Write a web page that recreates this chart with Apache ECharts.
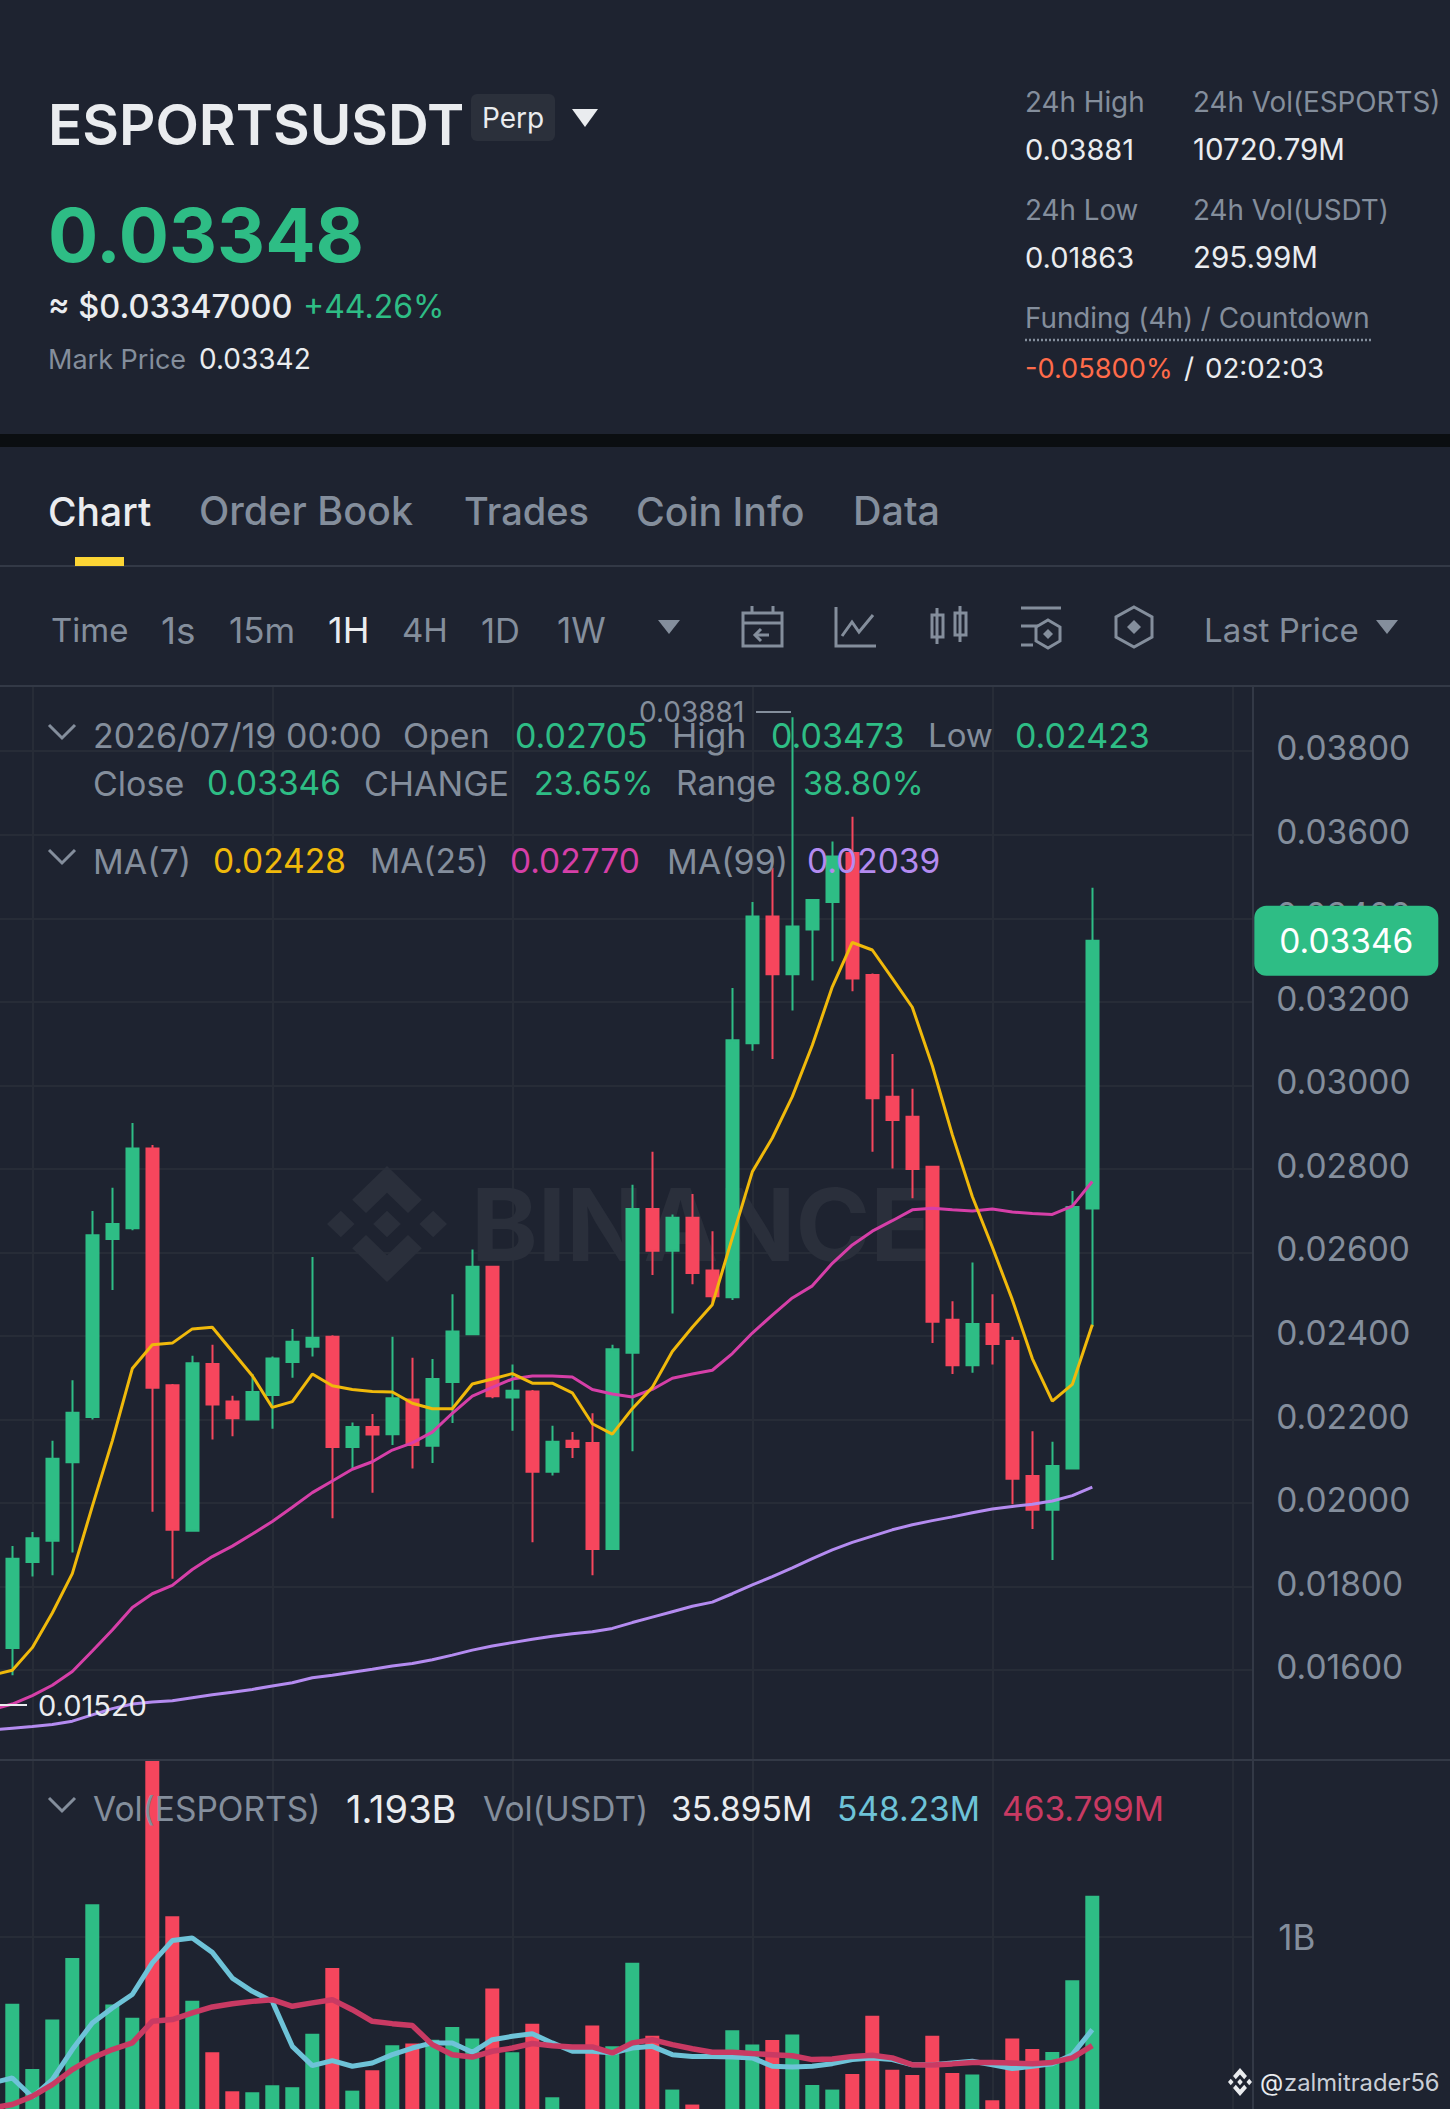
<!DOCTYPE html>
<html><head><meta charset="utf-8">
<style>html,body{margin:0;padding:0;background:#1e2330}#c{width:1450px;height:2109px}</style>
<script src="https://cdn.jsdelivr.net/npm/echarts@6/dist/echarts.min.js"></script>
</head><body><div id="c"></div>
<script>
const opens=[0.01653,0.01859,0.0191,0.02098,0.02206,0.02632,0.02658,0.02849,0.02282,0.01934,0.02333,0.02243,0.022,0.02259,0.02338,0.02374,0.02398,0.02134,0.02182,0.02165,0.02248,0.02137,0.0229,0.02404,0.02566,0.02253,0.02267,0.02075,0.02149,0.02144,0.0189,0.0236,0.02704,0.02604,0.02683,0.02557,0.02493,0.03101,0.03404,0.03266,0.03373,0.03439,0.03556,0.03264,0.02973,0.02925,0.02805,0.02439,0.0233,0.02429,0.02388,0.02065,0.01984,0.02083,0.02705];
const closes=[0.01867,0.01916,0.02106,0.02216,0.02641,0.02668,0.02849,0.02276,0.01936,0.02335,0.02236,0.02203,0.02266,0.02346,0.02386,0.02396,0.02134,0.02182,0.02164,0.02251,0.02139,0.02297,0.02411,0.02566,0.02256,0.02269,0.02075,0.02147,0.02134,0.0189,0.02368,0.02704,0.02604,0.02683,0.02551,0.02495,0.03108,0.03404,0.03266,0.0338,0.03444,0.03548,0.03256,0.02969,0.02917,0.028,0.02434,0.0233,0.02429,0.02381,0.02058,0.01984,0.02089,0.02709,0.03346];
const lows=[0.01588,0.01824,0.01827,0.01882,0.022,0.0251,0.02653,0.01979,0.01819,0.01934,0.02152,0.0216,0.022,0.02178,0.023,0.02351,0.01964,0.02083,0.02025,0.02139,0.02083,0.02096,0.02192,0.02404,0.02251,0.02173,0.01906,0.02066,0.02108,0.01827,0.0189,0.02124,0.02546,0.02454,0.02524,0.02478,0.02486,0.03083,0.03063,0.03179,0.03251,0.03297,0.03225,0.02841,0.02801,0.0273,0.02383,0.02309,0.02312,0.02332,0.01997,0.01938,0.01864,0.02083,0.02423];
const highs=[0.01897,0.01931,0.02149,0.02294,0.02699,0.02755,0.0291,0.02857,0.02285,0.02353,0.02379,0.02257,0.02309,0.02351,0.02417,0.02589,0.02402,0.02193,0.02213,0.02398,0.02348,0.02345,0.025,0.02607,0.02566,0.02332,0.02271,0.02185,0.0217,0.02215,0.02379,0.02762,0.02841,0.02691,0.0274,0.02651,0.03233,0.03439,0.03521,0.03881,0.03446,0.03584,0.03643,0.03268,0.03075,0.02992,0.02805,0.02483,0.02576,0.025,0.02398,0.02172,0.02147,0.02747,0.03473];
const ma7=[0.01588,0.016,0.01654,0.01737,0.01831,0.01992,0.02149,0.02322,0.02379,0.02383,0.02417,0.02421,0.02363,0.02305,0.02229,0.02243,0.02309,0.02281,0.02272,0.02267,0.02266,0.02239,0.02226,0.02226,0.02285,0.02297,0.0231,0.02287,0.02287,0.02264,0.0219,0.02165,0.02226,0.02277,0.02363,0.02421,0.02475,0.02635,0.02793,0.02874,0.02973,0.03096,0.03236,0.03342,0.03324,0.03256,0.03187,0.03047,0.02882,0.02734,0.02613,0.02487,0.02346,0.02244,0.02284,0.02427];
const ma25=[0.01506,0.01519,0.01539,0.01564,0.01597,0.01646,0.01696,0.0175,0.01783,0.01803,0.01841,0.01872,0.01897,0.01926,0.01956,0.0199,0.02025,0.02053,0.02081,0.02099,0.02127,0.02144,0.0217,0.02215,0.02256,0.02277,0.02297,0.02304,0.02304,0.02302,0.02272,0.02261,0.02254,0.02272,0.02299,0.02309,0.02318,0.02358,0.02407,0.0245,0.02491,0.0252,0.02574,0.02618,0.02651,0.02676,0.02702,0.02706,0.02702,0.02699,0.02704,0.02697,0.02693,0.02691,0.02711,0.0277];
const ma99=[0.01457,0.01461,0.01465,0.0147,0.01478,0.01493,0.01508,0.01519,0.01524,0.01527,0.01534,0.01541,0.01547,0.01554,0.01562,0.0157,0.01582,0.01588,0.01595,0.01602,0.0161,0.01616,0.01625,0.01636,0.01648,0.01658,0.01666,0.01674,0.01681,0.01687,0.01692,0.017,0.01714,0.01727,0.0174,0.01753,0.01763,0.01783,0.01804,0.01824,0.01845,0.01867,0.01888,0.01906,0.01921,0.01936,0.01948,0.01958,0.01967,0.01977,0.01986,0.01992,0.01997,0.02005,0.02018,0.02038];
const volumes=[0.688,0.383,0.614,0.902,1.153,0.684,0.623,1.85,1.097,0.702,0.461,0.279,0.274,0.307,0.298,0.548,0.855,0.282,0.377,0.494,0.502,0.52,0.579,0.525,0.759,0.461,0.595,0.251,0.16,0.586,0.489,0.879,0.539,0.287,0.217,0.16,0.564,0.497,0.519,0.544,0.308,0.287,0.36,0.632,0.38,0.355,0.539,0.364,0.357,0.237,0.526,0.477,0.463,0.798,1.193];
const volMaBlue=[0.318,0.341,0.252,0.333,0.474,0.598,0.668,0.731,0.879,0.983,0.995,0.928,0.808,0.746,0.699,0.489,0.399,0.422,0.396,0.411,0.45,0.481,0.505,0.505,0.461,0.52,0.536,0.548,0.505,0.466,0.466,0.458,0.481,0.489,0.45,0.442,0.442,0.439,0.435,0.396,0.393,0.396,0.408,0.427,0.435,0.427,0.403,0.403,0.411,0.419,0.403,0.385,0.396,0.408,0.45,0.567];
const volMaRed=[0.201,0.217,0.255,0.31,0.38,0.435,0.474,0.505,0.606,0.614,0.645,0.673,0.688,0.699,0.707,0.676,0.692,0.707,0.66,0.606,0.595,0.586,0.497,0.45,0.439,0.466,0.481,0.502,0.492,0.486,0.486,0.458,0.505,0.52,0.497,0.478,0.461,0.461,0.455,0.45,0.445,0.427,0.43,0.442,0.447,0.435,0.403,0.402,0.407,0.414,0.414,0.411,0.408,0.414,0.435,0.492];
const priceTicks=[0.016,0.018,0.020,0.022,0.024,0.026,0.028,0.030,0.032,0.034,0.036,0.038];
const volTicks=[1];
const lastPrice=[0.03346];
const slotsLeft=1, slotsTotal=64;
const categories=Array.from({length:slotsTotal},(_,k)=>'bar'+(k-slotsLeft));

const BG='#1e2330',GREEN='#2ebd85',RED='#f6465d',GREY='#848e9c',WHITE='#eaecef',GRID='#272c37',RULE='#333946';
const YEL='#f0b90b',PINK='#d63fa8',PUR='#b48bf0',BLUE='#6ec3d8',VRED='#c93a63';
const FONT='Inter';

const pad=(a,lead)=>{const r=Array(slotsTotal).fill(null);a.forEach((v,k)=>{r[k+lead]=v;});return r;};
const candleData=Array.from({length:slotsTotal},(_,k)=>{const j=k-slotsLeft;return (j>=0&&j<opens.length)?[opens[j],closes[j],lows[j],highs[j]]:['-','-','-','-'];});
const volBars=Array.from({length:slotsTotal},(_,k)=>{const j=k-slotsLeft;if(j<0||j>=volumes.length)return null;return {value:volumes[j],itemStyle:{color:closes[j]>=opens[j]?GREEN:RED}};});

const g=[];
function T(x,y,text,size,fill,weight,z,align){g.push({type:'text',x,y,z:z==null?100:z,silent:true,style:{text,fill,font:(weight||400)+' '+size+'px '+FONT,textAlign:align||'left',textVerticalAlign:'middle'}});}
function R(x,y,w,h,fill,r,z){g.push({type:'rect',z:z==null?50:z,silent:true,shape:{x,y,width:w,height:h,r:r||0},style:{fill}});}
function L(x1,y1,x2,y2,stroke,lw,z,dash){g.push({type:'line',z:z==null?50:z,silent:true,shape:{x1,y1,x2,y2},style:{stroke,lineWidth:lw||2,lineDash:dash}});}
function P(points,fill,z){g.push({type:'polygon',z:z==null?50:z,silent:true,shape:{points},style:{fill}});}
function PL(points,stroke,lw,z){g.push({type:'polyline',z:z==null?50:z,silent:true,shape:{points},style:{stroke,lineWidth:lw||3,fill:'none'}});}
function tri(cx,cy,w,h,fill){P([[cx-w/2,cy-h/2],[cx+w/2,cy-h/2],[cx,cy+h/2]],fill);}
function chev(x,y){PL([[x,y-7],[x+13,y+6],[x+26,y-7]],GREY,3,100);}
function logo(cx,cy,rx,ry,fill,z){const s=[[[0,-1],[.58,-.42],[.35,-.19],[0,-.54],[-.35,-.19],[-.58,-.42]],[[0,1],[.58,.42],[.35,.19],[0,.54],[-.35,.19],[-.58,.42]],[[-1,0],[-.77,-.23],[-.54,0],[-.77,.23]],[[1,0],[.77,-.23],[.54,0],[.77,.23]],[[0,-.23],[.23,0],[0,.23],[-.23,0]]];s.forEach(p=>P(p.map(q=>[cx+q[0]*rx,cy+q[1]*ry]),fill,z));}

// header
T(48,124,'ESPORTSUSDT',56.5,WHITE,600);
R(471,94,84,47,'#2b303b',6);T(482,118,'Perp',28,WHITE,400);
P([[572,109],[598,109],[585,127]],WHITE);
T(48,235,'0.03348',74.5,GREEN,650);
T(48,306,'≈ $0.03347000',32.5,WHITE,500);T(303,306,'+44.26%',32,GREEN,400);
T(48,359,'Mark Price',27,GREY);T(199,359,'0.03342',28,WHITE);
T(1025,102,'24h High',27.8,GREY);T(1193,102,'24h Vol(ESPORTS)',27.8,GREY);
T(1025,149,'0.03881',29,WHITE);T(1193,149,'10720.79M',29.5,WHITE);
T(1025,210,'24h Low',27.8,GREY);T(1193,210,'24h Vol(USDT)',27.8,GREY);
T(1025,257,'0.01863',29,WHITE);T(1193,257,'295.99M',29.5,WHITE);
T(1025,318,'Funding (4h) / Countdown',27.8,GREY);
L(1025,340,1371,340,GREY,2.5,50,[2,2]);
T(1025,368,'-0.05800%',27.2,'#ff6b4a');T(1184,368,'/',28,WHITE);T(1205,368,'02:02:03',27.7,WHITE);
R(0,434,1450,13,'#0b0e11',0);
// tabs
[['Chart',48,WHITE,39],['Order Book',199,GREY,39.5],['Trades',464,GREY,38],['Coin Info',636,GREY,39.3],['Data',853,GREY,39.5]].forEach(a=>T(a[1],511,a[0],a[3],a[2],500));
L(0,566,1450,566,RULE,2);R(75,557,49,9,'#fcd535',0,60);
// toolbar
[['Time',51,GREY,33],['1s',161,GREY,37],['15m',229,GREY,35],['1H',328,WHITE,36],['4H',402,GREY,33],['1D',481,GREY,34.5],['1W',557,GREY,35],['Last Price',1204,GREY,33]].forEach(a=>T(a[1],630,a[0],a[3],a[2],400));
tri(669,627,22,14,GREY);tri(1387,627,22,14,GREY);
// icons
g.push({type:'rect',z:50,silent:true,shape:{x:743,y:613,width:39,height:33},style:{stroke:GREY,lineWidth:3,fill:'none'}});
L(743,623,782,623,GREY,3);L(752,606,752,614,GREY,3);L(773,606,773,614,GREY,3);PL([[769,635],[755,635]],GREY,3);PL([[761,629],[755,635],[761,641]],GREY,3);
PL([[836,607],[836,646],[876,646]],GREY,3);PL([[842,636],[852,622],[859,632],[873,615]],GREY,3);
g.push({type:'rect',z:50,silent:true,shape:{x:932,y:615,width:11,height:22},style:{stroke:GREY,lineWidth:3,fill:'none'}});
g.push({type:'rect',z:50,silent:true,shape:{x:955,y:613,width:11,height:22},style:{stroke:GREY,lineWidth:3,fill:'none'}});
L(937,608,937,644,GREY,3);L(960,606,960,642,GREY,3);
L(1021,608,1061,608,GREY,3);L(1021,626,1038,626,GREY,3);L(1021,645,1033,645,GREY,3);
g.push({type:'polygon',z:50,silent:true,shape:{points:[[1048,620],[1060,627],[1060,641],[1048,648],[1036,641],[1036,627]]},style:{stroke:GREY,lineWidth:3,fill:'none'}});
P([[1048,629],[1053,634],[1048,639],[1043,634]],GREY);
g.push({type:'polygon',z:50,silent:true,shape:{points:[[1134,607],[1152,617],[1152,637],[1134,647],[1116,637],[1116,617]]},style:{stroke:GREY,lineWidth:3,fill:'none'}});
P([[1134,620],[1141,627],[1134,634],[1127,627]],GREY);
L(0,686,1450,686,RULE,2);
// OHLC legend
chev(49,732);chev(49,857);chev(49,1805);
const FS=34;
T(93,735,'2026/07/19 00:00',FS,GREY);T(403,735,'Open',FS,GREY);T(515,735,'0.02705',FS,GREEN);T(672,735,'High',FS,GREY);T(771,735,'0.03473',FS,GREEN);T(928,735,'Low',33,GREY);T(1015,735,'0.02423',FS,GREEN);
T(93,783,'Close',FS,GREY);T(207,783,'0.03346',33.5,GREEN);T(364,783,'CHANGE',FS,GREY);T(534,783,'23.65%',32.5,GREEN);T(676,783,'Range',33.5,GREY);T(803,783,'38.80%',32.5,GREEN);
T(93,861,'MA(7)',FS,GREY);T(213,861,'0.02428',33.5,YEL);T(370,861,'MA(25)',33.5,GREY);T(510,861,'0.02770',33.5,PINK);T(667,861,'MA(99)',FS,GREY);T(807,861,'0.02039',33.5,PUR);
T(639,712,'0.03881',28,GREY);L(756,712,791,712,GREY,2,100);
L(0,1705,27,1705,WHITE,2,100);T(38,1705,'0.01520',29,WHITE);
// volume legend
L(0,1760,1450,1760,RULE,2);
T(93,1809,'Vol(ESPORTS)',33.5,GREY);T(346,1809,'1.193B',38,WHITE);T(483,1809,'Vol(USDT)',33.5,GREY);T(671,1809,'35.895M',33.5,WHITE);T(837,1809,'548.23M',33.5,BLUE);T(1002,1809,'463.799M',33.5,VRED);
// watermarks
logo(387,1224,60,58,'#2a2f3b',1);
T(471,1224,'BINANCE',101,'#2a2f3b',700,1);
logo(1240,2082,12,14,WHITE,100);
T(1260,2082,'@',24,WHITE);T(1284,2082,'zalmitrader56',23.8,'#c9ced6');

const vSplit={show:true,interval:(idx)=>idx%12===2,lineStyle:{color:GRID,width:2}};
const option={
 animation:false,backgroundColor:BG,
 grid:[{left:-7.7,right:1450-1252.3,top:686,height:1074,outerBoundsMode:'none'},{left:-7.7,right:1450-1252.3,top:1761,height:390,outerBoundsMode:'none'}],
 xAxis:[
  {type:'category',gridIndex:0,data:categories,boundaryGap:false,axisLabel:{show:false},axisTick:{show:false},axisLine:{show:false},splitLine:vSplit},
  {type:'category',gridIndex:1,data:categories,boundaryGap:false,axisLabel:{show:false},axisTick:{show:false},axisLine:{show:false},splitLine:vSplit}
 ],
 yAxis:[
  {type:'value',gridIndex:0,position:'right',scale:true,min:0.01385,max:0.03956,
   axisTick:{show:false,customValues:priceTicks},axisLine:{show:true,lineStyle:{color:RULE,width:2}},
   splitLine:{show:true,lineStyle:{color:GRID,width:2}},
   axisLabel:{customValues:priceTicks,margin:24,color:GREY,fontFamily:FONT,fontSize:33.5,verticalAlign:'bottom',lineHeight:6,formatter:v=>v.toFixed(5)}},
  {type:'value',gridIndex:0,position:'right',scale:true,min:0.01385,max:0.03956,z:20,
   axisTick:{show:false,customValues:lastPrice},axisLine:{show:false},splitLine:{show:false},
   axisLabel:{customValues:lastPrice,margin:2,color:'#fff',fontFamily:FONT,fontSize:33.5,backgroundColor:GREEN,borderRadius:12,padding:[18,25,18,25],formatter:v=>v.toFixed(5)}},
  {type:'value',gridIndex:1,position:'right',min:0,max:1.822,
   axisTick:{show:false,customValues:volTicks},axisLine:{show:true,lineStyle:{color:RULE,width:2}},
   splitLine:{show:true,lineStyle:{color:GRID,width:2}},
   axisLabel:{customValues:volTicks,margin:26,color:GREY,fontFamily:FONT,fontSize:35,formatter:v=>v+'B'}}
 ],
 graphic:{elements:g},
 series:[
  {type:'candlestick',xAxisIndex:0,yAxisIndex:0,data:candleData,barWidth:13,z:3,
   itemStyle:{color:GREEN,color0:RED,borderColor:GREEN,borderColor0:RED,borderWidth:2}},
  {type:'line',xAxisIndex:0,yAxisIndex:0,data:pad(ma99,0),showSymbol:false,symbol:'none',z:4,lineStyle:{color:PUR,width:3}},
  {type:'line',xAxisIndex:0,yAxisIndex:0,data:pad(ma25,0),showSymbol:false,symbol:'none',z:4,lineStyle:{color:PINK,width:3}},
  {type:'line',xAxisIndex:0,yAxisIndex:0,data:pad(ma7,0),showSymbol:false,symbol:'none',z:4,lineStyle:{color:YEL,width:3}},
  {type:'bar',xAxisIndex:1,yAxisIndex:2,data:volBars,barWidth:14,z:3},
  {type:'line',xAxisIndex:1,yAxisIndex:2,data:pad(volMaBlue,0),showSymbol:false,symbol:'none',z:4,lineStyle:{color:BLUE,width:5}},
  {type:'line',xAxisIndex:1,yAxisIndex:2,data:pad(volMaRed,0),showSymbol:false,symbol:'none',z:4,lineStyle:{color:VRED,width:5.5}}
 ]
};
echarts.init(document.getElementById('c'),null,{renderer:'svg',width:1450,height:2109}).setOption(option);
</script></body></html>
